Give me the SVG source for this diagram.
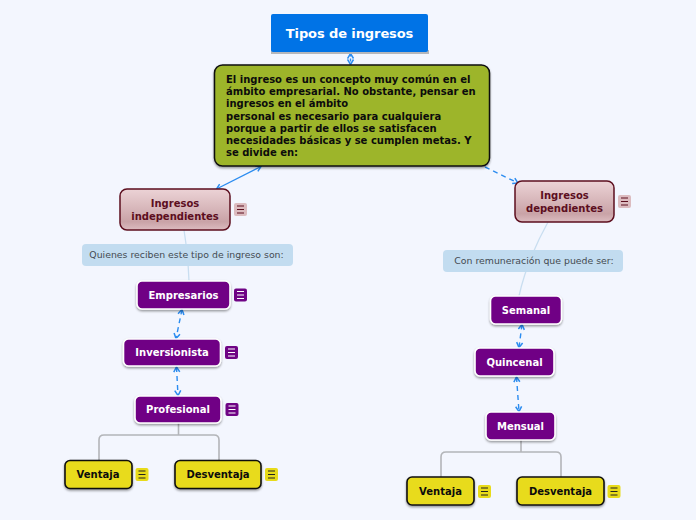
<svg xmlns="http://www.w3.org/2000/svg" width="696" height="520" viewBox="0 0 696 520">
<defs>
<linearGradient id="rose" x1="0" y1="0" x2="0" y2="1"><stop offset="0" stop-color="#ecd3d6"/><stop offset="0.8" stop-color="#c9a3a7"/><stop offset="1" stop-color="#dcbcc0"/></linearGradient>
<filter id="sh" x="-20%" y="-20%" width="140%" height="150%"><feDropShadow dx="0" dy="1.5" stdDeviation="1.2" flood-color="#000" flood-opacity="0.4"/></filter>
<marker id="arr" markerWidth="8" markerHeight="8" refX="6" refY="4" orient="auto-start-reverse" markerUnits="userSpaceOnUse"><path d="M1 1 L6 4 L1 7" fill="none" stroke="#2b8cf0" stroke-width="1.500"/></marker>
<g id="ic"><path d="M3 3H10M3 6.500H10M3 10H10" fill="none" stroke-width="1.200"/></g>
</defs>
<style>
text{font-family:"DejaVu Sans",sans-serif;font-weight:700;font-size:10px;text-anchor:middle}
.m{text-anchor:start;fill:#0c0c0c}
.p rect.b{fill:#6f0485;stroke:#fff;stroke-width:1.6;filter:url(#sh)}
.p text{fill:#fff}
.y rect.b{fill:#e8db1a;stroke:#111;stroke-width:1.6;filter:url(#sh)}
.y text{fill:#0c0c0c}
.r rect.b{fill:url(#rose);stroke:#5c0e1e;stroke-width:1.5}
.r text{fill:#5c0e1e}
.l rect{fill:#c2dcf0}
.l text{font-weight:400;font-size:9.350px;fill:#444b52}
.a{fill:none;stroke:#2b8cf0;stroke-width:1.400;marker-start:url(#arr);marker-end:url(#arr)}
.e{fill:none;stroke:#2b8cf0;stroke-width:1.400;marker-end:url(#arr)}
.d{stroke-dasharray:5 4}
.t{fill:none;stroke:#b3b5b9;stroke-width:1.6}
.c{fill:none;stroke:#c9def0;stroke-width:1.3}
</style>
<rect width="696" height="520" fill="#f3f6fe"/>
<g id="connectors">
<path class="a" d="M350.500 53.500V64.500" stroke-dasharray="3 2"/>
<path class="a" d="M261 166.500L216.500 189"/>
<path class="e d" d="M485 167L518 183"/>
<path class="c" d="M184 230Q188 255 189 281"/>
<path class="c" d="M548 222Q527 260 519 296"/>
<path class="a d" d="M182 309.500L176 338.500"/>
<path class="a d" d="M176.500 367L178 395.500"/>
<path class="a d" d="M522 324.500L519 347.500"/>
<path class="a d" d="M516.500 377L519 411.500"/>
<path class="t" d="M178.500 423V435M99 460V440Q99 435 104 435H214Q219 435 219 440V460"/>
<path class="t" d="M521 440V452M441 477V457Q441 452 446 452H556Q561 452 561 457V477"/>
</g>
<g id="title"><rect x="271" y="50" width="158" height="4" fill="#b5b7bb"/><rect x="271" y="14" width="157" height="38" rx="2" fill="#0073e6"/><text x="349.500" y="38" style="font-size:13px;letter-spacing:-0.1px" fill="#fff">Tipos de ingresos</text></g>
<g id="main"><rect x="214.500" y="65" width="275" height="101" rx="8" fill="#9db52c" stroke="#111" stroke-width="1.500" filter="url(#sh)"/>
<text class="m" x="226" y="83">El ingreso es un concepto muy común en el</text>
<text class="m" x="226" y="95">ámbito empresarial. No obstante, pensar en</text>
<text class="m" x="226" y="107">ingresos en el ámbito</text>
<text class="m" x="226" y="120">personal es necesario para cualquiera</text>
<text class="m" x="226" y="132">porque a partir de ellos se satisfacen</text>
<text class="m" x="226" y="144">necesidades básicas y se cumplen metas. Y</text>
<text class="m" x="226" y="156">se divide en:</text></g>
<g id="independientes" class="r"><rect class="b" x="120" y="189" width="110" height="41" rx="7"/><text x="175" y="207">Ingresos</text><text x="175" y="220">independientes</text><rect x="234" y="203" width="13" height="13" rx="2" fill="#dcbcc0"/><use href="#ic" x="234" y="203" stroke="#5c0e1e"/></g>
<g id="dependientes" class="r"><rect class="b" x="515" y="181" width="99" height="41" rx="7"/><text x="564.500" y="199">Ingresos</text><text x="564.500" y="212">dependientes</text><rect x="618" y="195" width="13" height="13" rx="2" fill="#dcbcc0"/><use href="#ic" x="618" y="195" stroke="#5c0e1e"/></g>
<g id="label1" class="l"><rect x="82" y="244" width="211" height="22" rx="4"/><text x="186.500" y="258">Quienes reciben este tipo de ingreso son:</text></g>
<g id="label2" class="l"><rect x="443" y="250" width="180" height="22" rx="4"/><text x="534" y="264">Con remuneración que puede ser:</text></g>
<g id="empresarios" class="p"><rect class="b" x="137" y="281" width="93" height="28" rx="5"/><text x="183.500" y="299">Empresarios</text><rect x="234" y="288.500" width="13" height="13" rx="2" fill="#6f0485"/><use href="#ic" x="234" y="288.500" stroke="#fff"/></g>
<g id="inversionista" class="p"><rect class="b" x="123.500" y="339" width="97" height="27" rx="5"/><text x="172" y="356">Inversionista</text><rect x="225" y="346" width="13" height="13" rx="2" fill="#6f0485"/><use href="#ic" x="225" y="346" stroke="#fff"/></g>
<g id="profesional" class="p"><rect class="b" x="135" y="396" width="86" height="27" rx="5"/><text x="178" y="413">Profesional</text><rect x="225.500" y="403" width="13" height="13" rx="2" fill="#6f0485"/><use href="#ic" x="225.500" y="403" stroke="#fff"/></g>
<g id="ventaja1" class="y"><rect class="b" x="65" y="460.500" width="67" height="28" rx="5"/><text x="98" y="478">Ventaja</text><rect x="135.500" y="468" width="13" height="13" rx="2" fill="#e8db1a"/><use href="#ic" x="135.500" y="468" stroke="#222"/></g>
<g id="desventaja1" class="y"><rect class="b" x="175" y="460.500" width="86" height="28" rx="5"/><text x="218" y="478">Desventaja</text><rect x="265" y="468" width="13" height="13" rx="2" fill="#e8db1a"/><use href="#ic" x="265" y="468" stroke="#222"/></g>
<g id="semanal" class="p"><rect class="b" x="490.500" y="296" width="71" height="28" rx="5"/><text x="526" y="314">Semanal</text></g>
<g id="quincenal" class="p"><rect class="b" x="475" y="348" width="79" height="28" rx="5"/><text x="514.500" y="366">Quincenal</text></g>
<g id="mensual" class="p"><rect class="b" x="486" y="412" width="69" height="28" rx="5"/><text x="520.500" y="430">Mensual</text></g>
<g id="ventaja2" class="y"><rect class="b" x="407" y="477" width="67" height="28" rx="5"/><text x="440.500" y="495">Ventaja</text><rect x="478" y="485" width="13" height="13" rx="2" fill="#e8db1a"/><use href="#ic" x="478" y="485" stroke="#222"/></g>
<g id="desventaja2" class="y"><rect class="b" x="517" y="477" width="87" height="28" rx="5"/><text x="560.500" y="495">Desventaja</text><rect x="607.500" y="485" width="13" height="13" rx="2" fill="#e8db1a"/><use href="#ic" x="607.500" y="485" stroke="#222"/></g>
</svg>
